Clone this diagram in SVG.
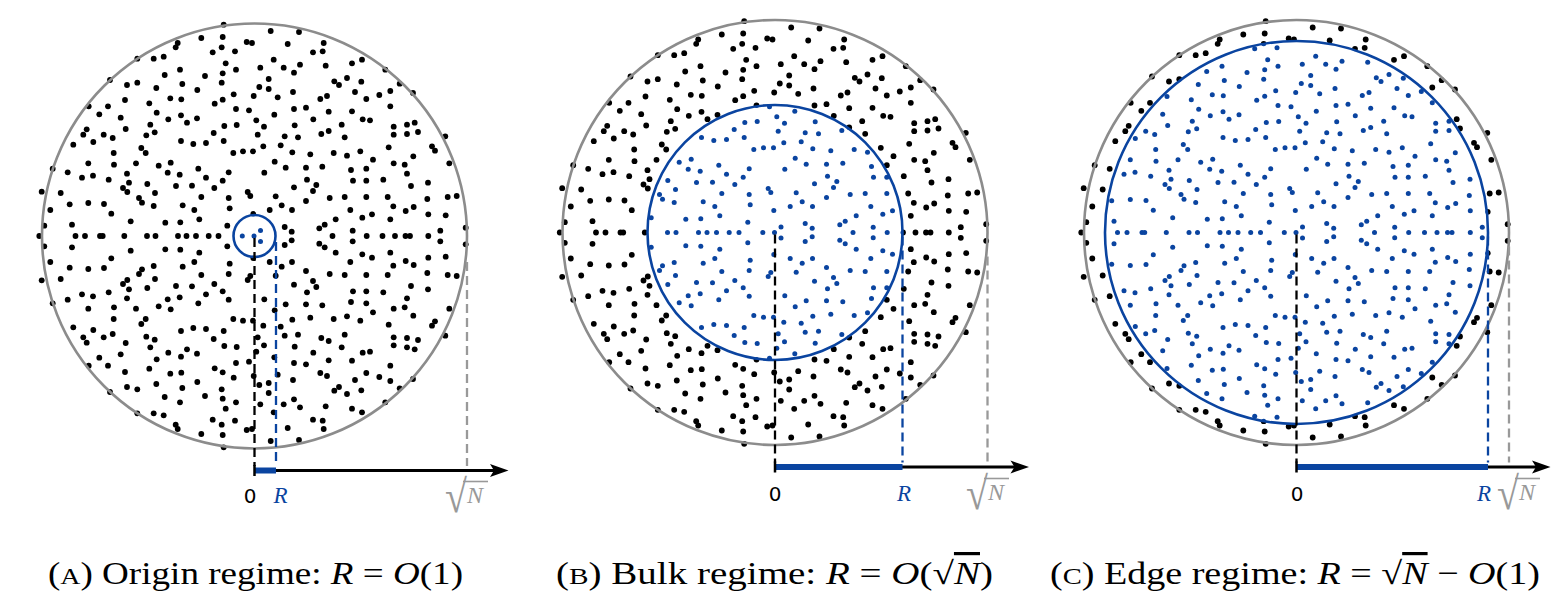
<svg xmlns="http://www.w3.org/2000/svg" xmlns:xlink="http://www.w3.org/1999/xlink" width="1551" height="596" viewBox="0 0 1551 596">
<style>
.dots circle{r:var(--dr,2.9px)}
.outer{fill:none;stroke:#8c8c8c;stroke-width:2.6}
.inner{fill:none;stroke:#0a44a0;stroke-width:2.6}
.axis{stroke:#000;stroke-width:3.2}
.bar{stroke:#0a44a0;stroke-width:6}
.dk{stroke:#000;stroke-width:2.3;stroke-dasharray:9 5;fill:none}
.db{stroke:#0a44a0;stroke-width:2.3;stroke-dasharray:9 5;fill:none}
.dg{stroke:#999;stroke-width:2.3;stroke-dasharray:9 5;fill:none}
.zero{font-family:"DejaVu Sans",sans-serif;font-size:20px;fill:#000;text-anchor:middle}
.rl{font-family:"Liberation Serif",serif;font-style:italic;font-size:23px;fill:#0a44a0;text-anchor:middle}
.sq{font-family:"Liberation Serif",serif;font-size:40px;fill:#999}
.sn{font-family:"Liberation Serif",serif;font-style:italic;font-size:24px;fill:#999}
.vin{stroke:#999;stroke-width:1.6}
.cap{font-family:"Liberation Serif",serif;font-size:32px;fill:#000}
.sc{font-size:24px}
.it{font-style:italic}
.ov{text-decoration:overline}
</style>
<defs>
<g id="half" class="dots">
<circle cx="223.7" cy="24.7"/><circle cx="222.7" cy="37"/><circle cx="201.3" cy="38"/><circle cx="246.7" cy="42"/><circle cx="252" cy="43"/><circle cx="177.7" cy="43"/><circle cx="175.7" cy="47.3"/><circle cx="221.7" cy="47.3"/><circle cx="212.7" cy="52.3"/><circle cx="235" cy="51.3"/><circle cx="137.3" cy="58.7"/><circle cx="153.7" cy="58.7"/><circle cx="163.7" cy="56.7"/><circle cx="225.7" cy="63.3"/><circle cx="180" cy="69.7"/><circle cx="236" cy="69.7"/><circle cx="222.7" cy="73.3"/><circle cx="164.7" cy="75"/><circle cx="205" cy="76"/><circle cx="110" cy="80"/><circle cx="137.3" cy="82.7"/><circle cx="127" cy="85"/><circle cx="182.3" cy="84"/><circle cx="221.7" cy="82.7"/><circle cx="156.3" cy="88"/><circle cx="197.3" cy="90"/><circle cx="233.7" cy="94.3"/><circle cx="253.7" cy="96"/><circle cx="170.3" cy="98.3"/><circle cx="181.3" cy="99.3"/><circle cx="125" cy="100"/><circle cx="222.7" cy="99.7"/><circle cx="214.7" cy="103.7"/><circle cx="88.7" cy="106.3"/><circle cx="108" cy="106.3"/><circle cx="149.3" cy="103.3"/><circle cx="236" cy="109"/><circle cx="249" cy="110.3"/><circle cx="99.3" cy="114.3"/><circle cx="156.7" cy="112.7"/><circle cx="120.7" cy="117.7"/><circle cx="181" cy="115.3"/><circle cx="168.3" cy="119.3"/><circle cx="197" cy="118.3"/><circle cx="187" cy="122.7"/><circle cx="150.3" cy="124.7"/><circle cx="224.3" cy="126"/><circle cx="236.7" cy="125"/><circle cx="86.7" cy="129.3"/><circle cx="125.7" cy="129"/>
<circle cx="270.7" cy="31"/><circle cx="299" cy="32"/><circle cx="287.7" cy="44"/><circle cx="323.7" cy="43"/><circle cx="313" cy="52.3"/><circle cx="322.7" cy="51.3"/><circle cx="273.7" cy="59.7"/><circle cx="300" cy="64.7"/><circle cx="325.7" cy="65.7"/><circle cx="352" cy="63.3"/><circle cx="362" cy="59.7"/><circle cx="260.3" cy="67.7"/><circle cx="283.7" cy="67.7"/><circle cx="294" cy="72.7"/><circle cx="385.3" cy="69.7"/><circle cx="268.7" cy="79"/><circle cx="334.3" cy="81.3"/><circle cx="339" cy="85"/><circle cx="347" cy="78"/><circle cx="361.3" cy="81.7"/><circle cx="399.7" cy="83.7"/><circle cx="259.3" cy="87"/><circle cx="268.7" cy="89"/><circle cx="355" cy="92"/><circle cx="390.3" cy="91"/><circle cx="413" cy="93"/><circle cx="293" cy="92"/><circle cx="277.7" cy="97.3"/><circle cx="327" cy="96"/><circle cx="320.3" cy="99"/><circle cx="366.3" cy="99"/><circle cx="379.3" cy="95"/><circle cx="294" cy="109"/><circle cx="306" cy="107.7"/><circle cx="328.7" cy="111.7"/><circle cx="352" cy="111.3"/><circle cx="390.3" cy="106.3"/><circle cx="274.3" cy="114.7"/><circle cx="313.3" cy="119.3"/><circle cx="362.7" cy="119.3"/><circle cx="370" cy="120.3"/><circle cx="256.3" cy="120.3"/><circle cx="341.7" cy="124.7"/><circle cx="264" cy="126.7"/><circle cx="294.7" cy="125.3"/><circle cx="393.7" cy="126.7"/><circle cx="407" cy="124.7"/><circle cx="414.7" cy="122.7"/>
<circle cx="83.3" cy="134.7"/><circle cx="103.7" cy="134.7"/><circle cx="112.7" cy="138"/><circle cx="146.3" cy="135.3"/><circle cx="154.7" cy="132.3"/><circle cx="73.3" cy="144.7"/><circle cx="93.3" cy="142"/><circle cx="181" cy="141"/><circle cx="193.3" cy="144"/><circle cx="206" cy="143"/><circle cx="213.7" cy="133"/><circle cx="223.7" cy="141"/><circle cx="113.7" cy="153"/><circle cx="141.3" cy="148"/><circle cx="145.7" cy="153"/><circle cx="233.3" cy="153"/><circle cx="243" cy="151.3"/><circle cx="253" cy="151.3"/><circle cx="88.3" cy="163.3"/><circle cx="114" cy="164.7"/><circle cx="136" cy="163.3"/><circle cx="158.7" cy="165.7"/><circle cx="170.7" cy="162.7"/><circle cx="52.7" cy="168.7"/><circle cx="67.7" cy="172.3"/><circle cx="82" cy="177.7"/><circle cx="93" cy="175.7"/><circle cx="127" cy="173.7"/><circle cx="167.7" cy="172.7"/><circle cx="179.7" cy="174.7"/><circle cx="198.3" cy="168.7"/><circle cx="206" cy="177.7"/><circle cx="228.7" cy="172.3"/><circle cx="108.7" cy="179.7"/><circle cx="129" cy="182.7"/><circle cx="147.3" cy="184"/><circle cx="123" cy="188"/><circle cx="127.3" cy="192"/><circle cx="176" cy="186"/><circle cx="192" cy="185.7"/><circle cx="214.3" cy="188"/><circle cx="222.7" cy="180.7"/><circle cx="41.7" cy="191.7"/><circle cx="60.7" cy="193"/><circle cx="139" cy="198"/><circle cx="142" cy="202.7"/><circle cx="155" cy="193"/><circle cx="201.3" cy="197"/><circle cx="228.7" cy="198"/><circle cx="247.7" cy="192"/><circle cx="250.3" cy="196"/><circle cx="69.7" cy="204.3"/><circle cx="88.3" cy="203"/><circle cx="104" cy="204"/><circle cx="111.3" cy="213.7"/><circle cx="153.7" cy="206"/><circle cx="182.7" cy="205.3"/><circle cx="194.3" cy="210"/><circle cx="229.7" cy="208.3"/><circle cx="50.3" cy="210"/><circle cx="130.7" cy="221.3"/><circle cx="165.3" cy="222.7"/><circle cx="180.3" cy="222.3"/><circle cx="199.3" cy="219.3"/><circle cx="72" cy="224.7"/><circle cx="44.3" cy="225.7"/><circle cx="227.3" cy="225.7"/><circle cx="253.3" cy="214"/>
<circle cx="257.7" cy="134.7"/><circle cx="284.7" cy="136.3"/><circle cx="298" cy="137.3"/><circle cx="321.3" cy="134"/><circle cx="328.7" cy="131"/><circle cx="344.7" cy="137.3"/><circle cx="393.7" cy="134.7"/><circle cx="407" cy="134"/><circle cx="418" cy="132"/><circle cx="445.3" cy="136.3"/><circle cx="263.3" cy="146.3"/><circle cx="280.7" cy="145.3"/><circle cx="292.3" cy="152.3"/><circle cx="310.3" cy="154.3"/><circle cx="333.7" cy="153"/><circle cx="347" cy="155.7"/><circle cx="360.3" cy="151.3"/><circle cx="373" cy="159.7"/><circle cx="388.7" cy="147.3"/><circle cx="413.3" cy="156.3"/><circle cx="432" cy="146.3"/><circle cx="435" cy="150.7"/><circle cx="274.7" cy="161.7"/><circle cx="285.7" cy="167.7"/><circle cx="306" cy="167.7"/><circle cx="322.3" cy="166.7"/><circle cx="351" cy="170"/><circle cx="366.3" cy="168.7"/><circle cx="393.7" cy="163.3"/><circle cx="404.7" cy="164.7"/><circle cx="407" cy="173.7"/><circle cx="449.3" cy="163.3"/><circle cx="264.3" cy="172.7"/><circle cx="307" cy="179.7"/><circle cx="316.3" cy="185"/><circle cx="313" cy="191"/><circle cx="294" cy="187.3"/><circle cx="353" cy="180.7"/><circle cx="366.3" cy="180.7"/><circle cx="383.3" cy="179.7"/><circle cx="411" cy="186"/><circle cx="428" cy="182.7"/><circle cx="275.7" cy="196.3"/><circle cx="306" cy="201"/><circle cx="329.7" cy="198"/><circle cx="344.7" cy="197"/><circle cx="366.3" cy="197"/><circle cx="387.7" cy="197"/><circle cx="427.3" cy="199"/><circle cx="447.7" cy="197"/><circle cx="456.7" cy="196"/><circle cx="281.7" cy="205.3"/><circle cx="269.7" cy="210"/><circle cx="292" cy="210"/><circle cx="350.3" cy="210"/><circle cx="393.3" cy="206.3"/><circle cx="405.7" cy="211"/><circle cx="413.7" cy="207"/><circle cx="362.3" cy="217.7"/><circle cx="372" cy="214.3"/><circle cx="335.7" cy="219.3"/><circle cx="390.3" cy="219.3"/><circle cx="428.3" cy="214.3"/><circle cx="445.7" cy="215.3"/><circle cx="284.7" cy="227"/><circle cx="291.7" cy="231.7"/><circle cx="319.3" cy="228.3"/><circle cx="324.7" cy="224.7"/><circle cx="352.7" cy="230.7"/><circle cx="440.3" cy="230.7"/><circle cx="465.7" cy="227.7"/><circle cx="260.5" cy="230.5"/>
</g>
<g id="pts">
<use xlink:href="#half"/>
<use xlink:href="#half" transform="matrix(1 0 0 -1 0 472)"/>
<g class="dots">
<circle cx="39.3" cy="236"/><circle cx="75.5" cy="236"/><circle cx="85" cy="236"/><circle cx="100" cy="236"/><circle cx="102.7" cy="236"/><circle cx="124.3" cy="236"/><circle cx="147" cy="236"/><circle cx="155.5" cy="236"/><circle cx="178" cy="236"/><circle cx="186.5" cy="236"/><circle cx="196" cy="236"/><circle cx="208.7" cy="236"/><circle cx="218.5" cy="236"/><circle cx="242.3" cy="236"/><circle cx="254" cy="236"/><circle cx="332.5" cy="236"/><circle cx="366.7" cy="236"/><circle cx="382.5" cy="236"/><circle cx="395" cy="236"/><circle cx="405.5" cy="236"/><circle cx="410" cy="236"/><circle cx="428.3" cy="236"/>
</g>
</g>
<clipPath id="inA"><circle cx="254.5" cy="236" r="21"/></clipPath>
<clipPath id="outA"><path clip-rule="evenodd" d="M-600,-100H1200V700H-600Z M233.5,236a21,21 0 1,0 42,0a21,21 0 1,0 -42,0Z"/></clipPath>
<clipPath id="inB"><circle cx="254.5" cy="236" r="127.5"/></clipPath>
<clipPath id="outB"><path clip-rule="evenodd" d="M-600,-100H1200V700H-600Z M127,236a127.5,127.5 0 1,0 255,0a127.5,127.5 0 1,0 -255,0Z"/></clipPath>
<clipPath id="inC"><circle cx="254.5" cy="236" r="191.5"/></clipPath>
<clipPath id="outC"><path clip-rule="evenodd" d="M-600,-100H1200V700H-600Z M63,236a191.5,191.5 0 1,0 383,0a191.5,191.5 0 1,0 -383,0Z"/></clipPath>
<polygon id="arrow" points="508.5,470.5 490,464 494,470.5 490,477" fill="#000"/>
</defs>

<g id="panelA">
<g clip-path="url(#outA)"><use xlink:href="#pts" fill="#000"/></g>
<g clip-path="url(#inA)"><use xlink:href="#pts" fill="#0a44a0" style="--dr:2.5px"/></g>
<circle class="outer" cx="254.5" cy="236" r="212.5"/>
<circle class="inner" cx="254.5" cy="236" r="21"/>
</g>
<g id="panelB" transform="translate(520.5,-3.5)">
<g clip-path="url(#outB)"><use xlink:href="#pts" fill="#000"/></g>
<g clip-path="url(#inB)"><use xlink:href="#pts" fill="#0a44a0" style="--dr:2.5px"/></g>
<circle class="outer" cx="254.5" cy="236" r="212.5"/>
<circle class="inner" cx="254.5" cy="236" r="127.5"/>
</g>
<g id="panelC" transform="translate(1042,-3.5)">
<g clip-path="url(#outC)"><use xlink:href="#pts" fill="#000"/></g>
<g clip-path="url(#inC)"><use xlink:href="#pts" fill="#0a44a0" style="--dr:2.5px"/></g>
<circle class="outer" cx="254.5" cy="236" r="212.5"/>
<circle class="inner" cx="254.5" cy="236" r="191.5"/>
</g>

<g id="connectors">
<g id="axisA">
<line class="dk" x1="254.5" y1="238" x2="254.5" y2="466"/>
<line class="db" x1="276" y1="242" x2="276" y2="466"/>
<line class="dg" x1="467" y1="262" x2="467" y2="466"/>
<line class="axis" x1="254.5" y1="470.5" x2="496" y2="470.5"/>
<use xlink:href="#arrow"/>
<line class="bar" x1="254.5" y1="470.5" x2="276" y2="470.5"/>
<line stroke="#000" stroke-width="2.5" x1="254.5" y1="465" x2="254.5" y2="476"/>
</g>
<g id="axisB" transform="translate(520.5,-3.5)">
<line class="dk" x1="254.5" y1="238" x2="254.5" y2="466"/>
<line class="db" x1="382" y1="240" x2="382" y2="466"/>
<line class="dg" x1="467" y1="260" x2="467" y2="466"/>
<line class="axis" x1="254.5" y1="470.5" x2="496" y2="470.5"/>
<use xlink:href="#arrow"/>
<line class="bar" x1="254.5" y1="470.5" x2="382" y2="470.5"/>
<line stroke="#000" stroke-width="2.5" x1="254.5" y1="465" x2="254.5" y2="476"/>
</g>
<g id="axisC" transform="translate(1042,-3.5)">
<line class="dk" x1="254.5" y1="238" x2="254.5" y2="466"/>
<line class="db" x1="446" y1="240" x2="446" y2="466"/>
<line class="dg" x1="467" y1="250" x2="467" y2="466"/>
<line class="axis" x1="254.5" y1="470.5" x2="496" y2="470.5"/>
<use xlink:href="#arrow"/>
<line class="bar" x1="254.5" y1="470.5" x2="446" y2="470.5"/>
<line stroke="#000" stroke-width="2.5" x1="254.5" y1="465" x2="254.5" y2="476"/>
</g>
</g>

<g id="labels">
<text class="zero" x="250" y="503">0</text>
<text class="rl" x="280.5" y="503">R</text>
<text class="sq" transform="translate(445,512) scale(1,1.15)">√</text><text class="sn" x="467" y="503">N</text><line class="vin" x1="463" y1="481.5" x2="488" y2="481.5"/>
<text class="zero" x="775" y="501">0</text>
<text class="rl" x="904" y="501">R</text>
<text class="sq" transform="translate(966,509) scale(1,1.15)">√</text><text class="sn" x="988" y="500">N</text><line class="vin" x1="984" y1="478.5" x2="1009" y2="478.5"/>
<text class="zero" x="1297" y="501">0</text>
<text class="rl" x="1484" y="501">R</text>
<text class="sq" transform="translate(1497,509) scale(1,1.15)">√</text><text class="sn" x="1519" y="500">N</text><line class="vin" x1="1515" y1="478.5" x2="1540" y2="478.5"/>
</g>

<g id="captions">
<text class="cap" x="48" y="584" textLength="415" lengthAdjust="spacingAndGlyphs">(<tspan class="sc">A</tspan>) Origin regime:  <tspan class="it">R</tspan> = <tspan class="it">O</tspan>(1)</text>
<text class="cap" x="556" y="584" textLength="437" lengthAdjust="spacingAndGlyphs">(<tspan class="sc">B</tspan>) Bulk regime:  <tspan class="it">R</tspan> = <tspan class="it">O</tspan>(√<tspan class="it ov">N</tspan>)</text>
<text class="cap" x="1050" y="584" textLength="490" lengthAdjust="spacingAndGlyphs">(<tspan class="sc">C</tspan>) Edge regime:  <tspan class="it">R</tspan> = √<tspan class="it ov">N</tspan> − <tspan class="it">O</tspan>(1)</text>
</g>
</svg>
